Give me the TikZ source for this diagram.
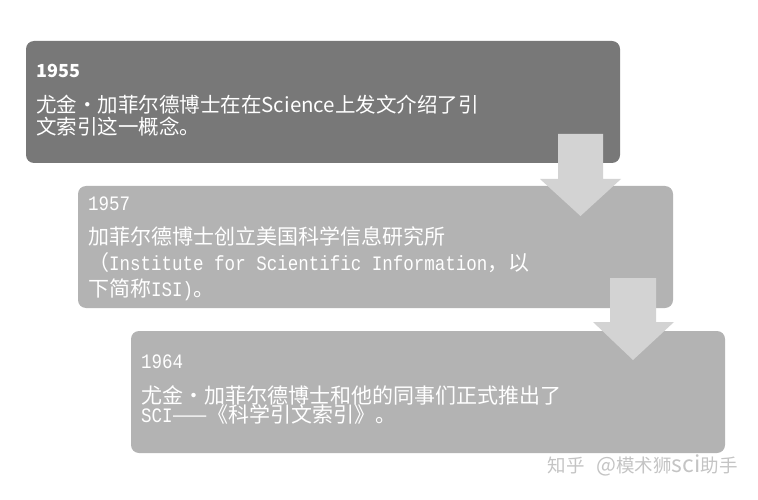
\documentclass[tikz,border=0pt]{standalone}
\usepackage{fontspec}
\usepackage{tikz}
\newfontfamily\cjk{Noto Sans CJK SC}
\newfontfamily\latinmono[FakeStretch=0.854]{Liberation Mono}
\newcommand{\mn}[1]{{\latinmono\fontsize{20.5}{20.5}\selectfont #1}}
\definecolor{darkbox}{HTML}{787878}
\definecolor{lightbox}{HTML}{B3B3B3}
\definecolor{arrowfill}{HTML}{D3D3D3}
\definecolor{marktext}{HTML}{C4C4C4}

\begin{document}
\begin{tikzpicture}[x=1pt,y=-1pt,
  box/.style={rounded corners=8pt, inner sep=0pt, minimum height=122pt},
  txt/.style={anchor=base west, inner sep=0pt, text=white},
  cjkline/.style={txt, font=\cjk\fontsize{21}{21}\selectfont},
  yearline/.style={txt, font=\latinmono\fontsize{20.5}{20.5}\selectfont},
  downarrow/.style={fill=arrowfill}]
\useasboundingbox (0,0) rectangle (758,500);

% Boxes
\node[box, fill=darkbox, minimum width=594pt] (box1955) at (323,102) {};
\node[box, fill=lightbox, minimum width=595pt] (box1957) at (375.5,247) {};

% Arrow 1955 -> 1957
\fill[downarrow] (558,134) -- (603,134) -- (603,179) -- (621,179) -- (580.5,216) -- (540,179) -- (558,179) -- cycle;

\node[box, fill=lightbox, minimum width=594pt] (box1964) at (428,392) {};

% Arrow 1957 -> 1964
\fill[downarrow] (610,278) -- (656,278) -- (656,322) -- (674,322) -- (633,360) -- (593,322) -- (610,322) -- cycle;

% 1955
\node[txt, font=\cjk\bfseries\fontsize{18}{18}\selectfont] (year1955) at (36,78) {1955};
\node[cjkline, font=\cjk\fontsize{20.5}{20.5}\selectfont] (text1955a) at (36,113) {尤金・加菲尔德博士在在Science上发文介绍了引};
\node[cjkline, font=\cjk\fontsize{20.5}{20.5}\selectfont] (text1955b) at (36,135) {文索引这一概念。};

% 1957
\node[yearline] (year1957) at (88,210) {1957};
\node[cjkline] (text1957a) at (88,244) {加菲尔德博士创立美国科学信息研究所};
\node[cjkline] (text1957b) at (88,270) {（\mn{Institute for Scientific Information}，以};
\node[cjkline] (text1957c) at (88,296) {下简称\mn{ISI)}。};

% 1964
\node[yearline] (year1964) at (141,368) {1964};
\node[cjkline] (text1964a) at (141,403) {尤金・加菲尔德博士和他的同事们正式推出了};
\node[cjkline] (text1964b) at (141,422) {\mn{SCI}——《科学引文索引》。};

% Watermark
\node[anchor=base east, inner sep=0pt, text=marktext, font=\cjk\fontsize{18.5}{18.5}\selectfont] (mark) at (738,472)
  {知乎\hspace{12pt}{\fontsize{21}{21}\selectfont @}模术狮{\fontsize{23}{23}\selectfont sci}助手};
\end{tikzpicture}
\end{document}
